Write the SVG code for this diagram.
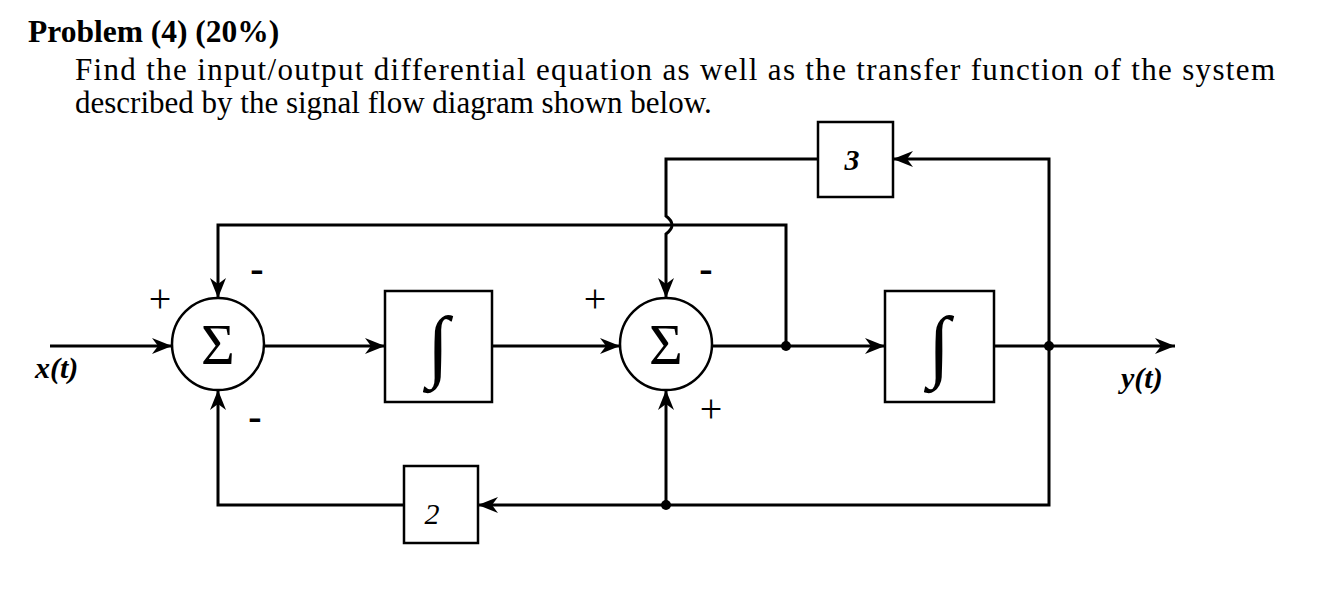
<svg xmlns="http://www.w3.org/2000/svg" width="1328" height="590" viewBox="0 0 1328 590">
<style>
.w{fill:none;stroke:#000;stroke-width:3}
.b{fill:#fff;stroke:#000;stroke-width:2.5}
.t{font-family:"Liberation Serif",serif;fill:#000}
</style>
<defs>
<marker id="a" viewBox="0 0 20 16" refX="20" refY="8" markerWidth="20" markerHeight="16" markerUnits="userSpaceOnUse" orient="auto">
<path d="M0,0 L20,8 L0,16 L6,8 Z" fill="#000"/>
</marker>
</defs>
<rect width="1328" height="590" fill="#fff"/>
<text class="t" x="28" y="42" font-size="31.5" font-weight="bold">Problem (4) (20%)</text>
<text class="t" x="75" y="80" font-size="31" textLength="1200" lengthAdjust="spacing">Find the input/output differential equation as well as the transfer function of the system</text>
<text class="t" x="75" y="113" font-size="31">described by the signal flow diagram shown below.</text>
<g id="connectors">
<path class="w" d="M50,346 H172" marker-end="url(#a)"/>
<path class="w" d="M264,346 H385" marker-end="url(#a)"/>
<path class="w" d="M492,346 H620" marker-end="url(#a)"/>
<path class="w" d="M712,346 H885" marker-end="url(#a)"/>
<path class="w" d="M994,346 H1175" marker-end="url(#a)"/>
<path class="w" d="M786,346 V225 H218 V298" marker-end="url(#a)"/>
<path class="w" d="M1049,346 V159 H893" marker-end="url(#a)"/>
<path class="w" d="M818,159 H666 V216 Q678,225 666,234 V298" marker-end="url(#a)"/>
<path class="w" d="M1049,346 V505 H478" marker-end="url(#a)"/>
<path class="w" d="M666,505 V390" marker-end="url(#a)"/>
<path class="w" d="M404,505 H218 V390" marker-end="url(#a)"/>
<circle cx="786" cy="346" r="5"/>
<circle cx="1049" cy="346" r="5"/>
<circle cx="666" cy="505" r="5"/>
</g>
<g id="sum1"><circle class="b" cx="218" cy="344" r="46" stroke-width="2"/><text class="t" x="218" y="364" font-size="58" text-anchor="middle">Σ</text></g>
<g id="sum2"><circle class="b" cx="666" cy="344" r="46" stroke-width="2"/><text class="t" x="666" y="364" font-size="58" text-anchor="middle">Σ</text></g>
<g id="int1"><rect class="b" x="385" y="291" width="107" height="111"/><text class="t" x="438" y="372" font-size="80" text-anchor="middle">∫</text></g>
<g id="int2"><rect class="b" x="885" y="291" width="109" height="111"/><text class="t" x="939" y="372" font-size="80" text-anchor="middle">∫</text></g>
<g id="gain3"><rect class="b" x="818" y="122" width="75" height="75"/><text class="t" x="852" y="170" font-size="30" font-weight="bold" font-style="italic" text-anchor="middle">3</text></g>
<g id="gain2"><rect class="b" x="404" y="466" width="74" height="77"/><text class="t" x="432" y="524" font-size="30" font-style="italic" text-anchor="middle">2</text></g>
<g id="labels" class="t" font-size="40">
<text x="160" y="312" text-anchor="middle">+</text>
<text x="257" y="282" text-anchor="middle" font-weight="bold">-</text>
<text x="255" y="430" text-anchor="middle" font-weight="bold">-</text>
<text x="595" y="312" text-anchor="middle">+</text>
<text x="706" y="282" text-anchor="middle" font-weight="bold">-</text>
<text x="711" y="422" text-anchor="middle">+</text>
<text x="35" y="378" font-size="30" font-style="italic" font-weight="bold">x(t)</text>
<text x="1121" y="388" font-size="30" font-style="italic" font-weight="bold">y(t)</text>
</g>
</svg>
